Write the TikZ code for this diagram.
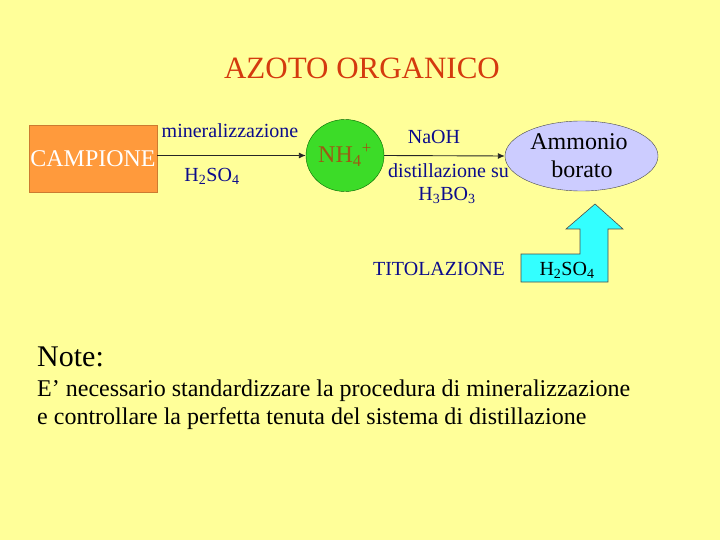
\documentclass[tikz,border=0pt]{standalone}
\usepackage{fontspec}
\setmainfont{Liberation Serif}
\usetikzlibrary{arrows.meta,shapes.geometric}
\definecolor{sfondo}{HTML}{FFFF99}
\definecolor{titolo}{HTML}{D43A0E}
\definecolor{blu}{HTML}{0B0B8C}
\definecolor{arancio}{HTML}{FF9A3C}
\definecolor{verde}{HTML}{3CDC28}
\definecolor{marrone}{HTML}{9C5A14}
\definecolor{lilla}{HTML}{CCCCFF}
\definecolor{ciano}{HTML}{33FFFF}
\tikzset{
    campione/.style={rectangle, draw=arancio!80!black, fill=arancio, text=white, minimum width=128pt, minimum height=67pt, inner sep=0pt, font=\fontsize{24}{28}\selectfont},
    ione/.style={ellipse, draw=green!40!black, fill=verde, text=marrone, minimum width=78pt, minimum height=72pt, inner sep=0pt, font=\fontsize{24}{28}\selectfont},
    borato/.style={ellipse, draw=black!70, fill=lilla, minimum width=153pt, minimum height=70pt, inner sep=0pt},
    reagente/.style={text=blu, anchor=base, inner sep=0pt, font=\fontsize{20}{24}\selectfont},
    testo/.style={anchor=base, inner sep=0pt, font=\fontsize{24}{28}\selectfont},
    freccia/.style={-{Latex[length=7pt, width=6pt]}, draw=black!85, line width=0.9pt}
}

\begin{document}
\begin{tikzpicture}
  [
    x                       = 1pt,
    y                       = -1pt,
  ]
  \fill [sfondo] (0,0) rectangle (720,540);
  \useasboundingbox (0,0) rectangle (720,540);

  \node [anchor=base, text=titolo, inner sep=0pt, font=\fontsize{31}{36}\selectfont] (titolo) at (362,79) {AZOTO ORGANICO};

  % schema
  \node [campione] (campione) at (93,158.5) {CAMPIONE};
  \node [ione] (nh4) at (345,155.5) {NH\textsubscript{4}\textsuperscript{+}};
  \node [borato] (ammonio) at (581.5,156) {};
  \node [testo] (ammonio1) at (579,150) {Ammonio};
  \node [testo] (ammonio2) at (582,178) {borato};

  \draw [freccia] (campione.east |- 0,155.5) -- (nh4.west);
  \draw [freccia] (nh4.east) -- (ammonio.west);

  \node [reagente] (mineral) at (230,138) {mineralizzazione};
  \node [reagente] (h2so4a) at (212,181.5) {H\textsubscript{2}SO\textsubscript{4}};
  \node [reagente] (naoh) at (434,143.5) {NaOH};
  \node [reagente] (distill) at (448.5,178) {distillazione su};
  \node [reagente] (h3bo3) at (447,200.5) {H\textsubscript{3}BO\textsubscript{3}};

  % titolazione
  \filldraw [fill=ciano, draw=black!70, line width=0.6pt]
    (521,254) -- (580,254) -- (580,229) -- (566,229) -- (595,204) -- (623,229)
    -- (608,229) -- (608,282) -- (521,282) -- cycle;
  \node [reagente, text=black] (h2so4b) at (567,275) {H\textsubscript{2}SO\textsubscript{4}};
  \node [reagente] (titolaz) at (439,275) {TITOLAZIONE};

  % note
  \node [testo, anchor=base west, font=\fontsize{30}{34}\selectfont] (note) at (37,366) {Note:};
  \node [testo, anchor=base west] (nota1) at (37,396.7) {E’ necessario standardizzare la procedura di mineralizzazione};
  \node [testo, anchor=base west] (nota2) at (37,424.3) {e controllare la perfetta tenuta del sistema di distillazione};
\end{tikzpicture}
\end{document}
